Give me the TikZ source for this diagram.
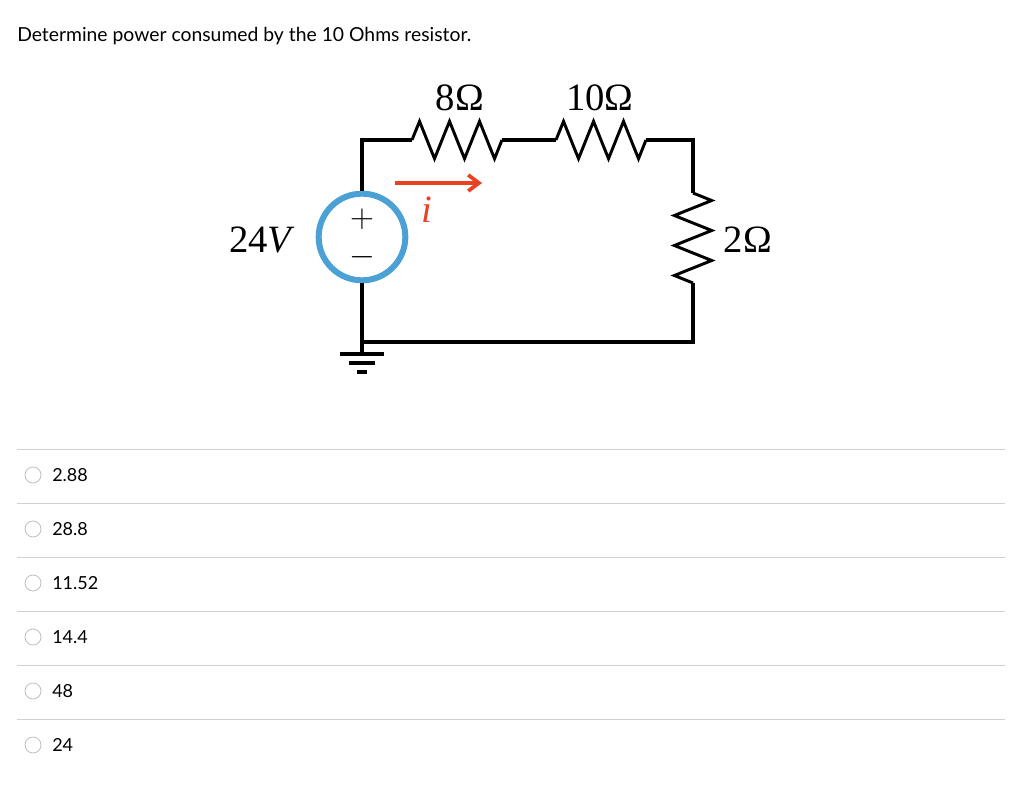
\documentclass[tikz,border=0pt]{standalone}
\usepackage{fontspec}
\setmainfont{Lato}
\newfontfamily\cirfont{Liberation Serif}
\usetikzlibrary{positioning,decorations.pathmorphing,arrows.meta}
\begin{document}
\begin{tikzpicture}[x=0.75pt,y=-0.75pt,
    wire/.style = {line width=2.6pt, line join=miter},
    res/.style = {wire, line width=2.2pt, decorate, decoration={zigzag, segment length=22.5pt, amplitude=14pt}},
    opt/.style = {circle, draw=black!25, line width=0.6pt, minimum size=12pt, inner sep=0pt},
    sep/.style = {draw=black!18, line width=0.7pt},
    lbl/.style = {font=\cirfont\fontsize{29}{30}\selectfont, inner sep=0pt},
    ans/.style = {font=\fontsize{13.5}{16}\selectfont, anchor=west, inner sep=0pt}]
    \useasboundingbox (0,0) rectangle (1024,788);
    \node[anchor=west, inner sep=0pt, font=\fontsize{14.5}{17}\selectfont] (q) at (17,36) {Determine power consumed by the 10 Ohms resistor.};
    % circuit
    \coordinate (tl) at (362,140);
    \coordinate (tr) at (693,140);
    \coordinate (bl) at (362,342);
    \coordinate (br) at (693,342);
    \coordinate (r1a) at (412,140);
    \coordinate (r1b) at (502,140);
    \coordinate (r2a) at (556,140);
    \coordinate (r2b) at (646,140);
    \coordinate (r3a) at (693,193);
    \coordinate (r3b) at (693,283);
    \node[circle, draw={rgb,255:red,75;green,160;blue,214}, line width=4.5pt, minimum size=65pt, inner sep=0pt] (src) at (362,237) {};
    \node[inner sep=0pt, font=\fontsize{24}{24}\selectfont] (plus) at (362,219) {$+$};
    \node[inner sep=0pt, font=\fontsize{24}{24}\selectfont] (minus) at (362,257) {$-$};
    \draw[wire] (src.north) -- (tl) -- (r1a);
    \draw[res] (r1a) -- (r1b);
    \draw[wire] (r1b) -- (r2a);
    \draw[res] (r2a) -- (r2b);
    \draw[wire] (r2b) -- (tr) -- (r3a);
    \draw[res] (r3b) -- (r3a);
    \draw[wire] (r3b) -- (br) -- (bl) -- (src.south);
    % ground
    \coordinate (g0) at (362,354);
    \draw[wire] (bl) -- (g0);
    \draw[wire] ([xshift=-16.5pt]g0) -- ([xshift=16.5pt]g0);
    \draw[wire] ([xshift=-10pt,yshift=-6.75pt]g0) -- ([xshift=10pt,yshift=-6.75pt]g0);
    \draw[wire] ([xshift=-4pt,yshift=-13.5pt]g0) -- ([xshift=4pt,yshift=-13.5pt]g0);
    % current
    \coordinate (ia) at (395,183);
    \coordinate (ib) at (482,183);
    \draw[line width=2.8pt, draw={rgb,255:red,232;green,65;blue,36}, -{Straight Barb[length=8pt,width=12pt]}] (ia) -- (ib);
    \node[lbl, text={rgb,255:red,232;green,65;blue,36}] (i) at (427,210) {\itshape i};
    \node[lbl] (l8) at (460,98) {8Ω};
    \node[lbl] (l10) at (600,98) {10Ω};
    \node[lbl] (l2) at (748,240) {2Ω};
    \node[lbl] (lv) at (262,240) {24\textit{V}};
    % answers
    \foreach \y/\t [count=\k] in {475/2.88, 529/28.8, 583/11.52, 637/14.4, 691/48, 745/24} {
        \draw[sep] (17,\y-26) -- (1005,\y-26);
        \node[opt] (o\k) at (33,\y) {};
        \node[ans] (a\k) at (52,\y) {\t};
    }
\end{tikzpicture}
\end{document}
